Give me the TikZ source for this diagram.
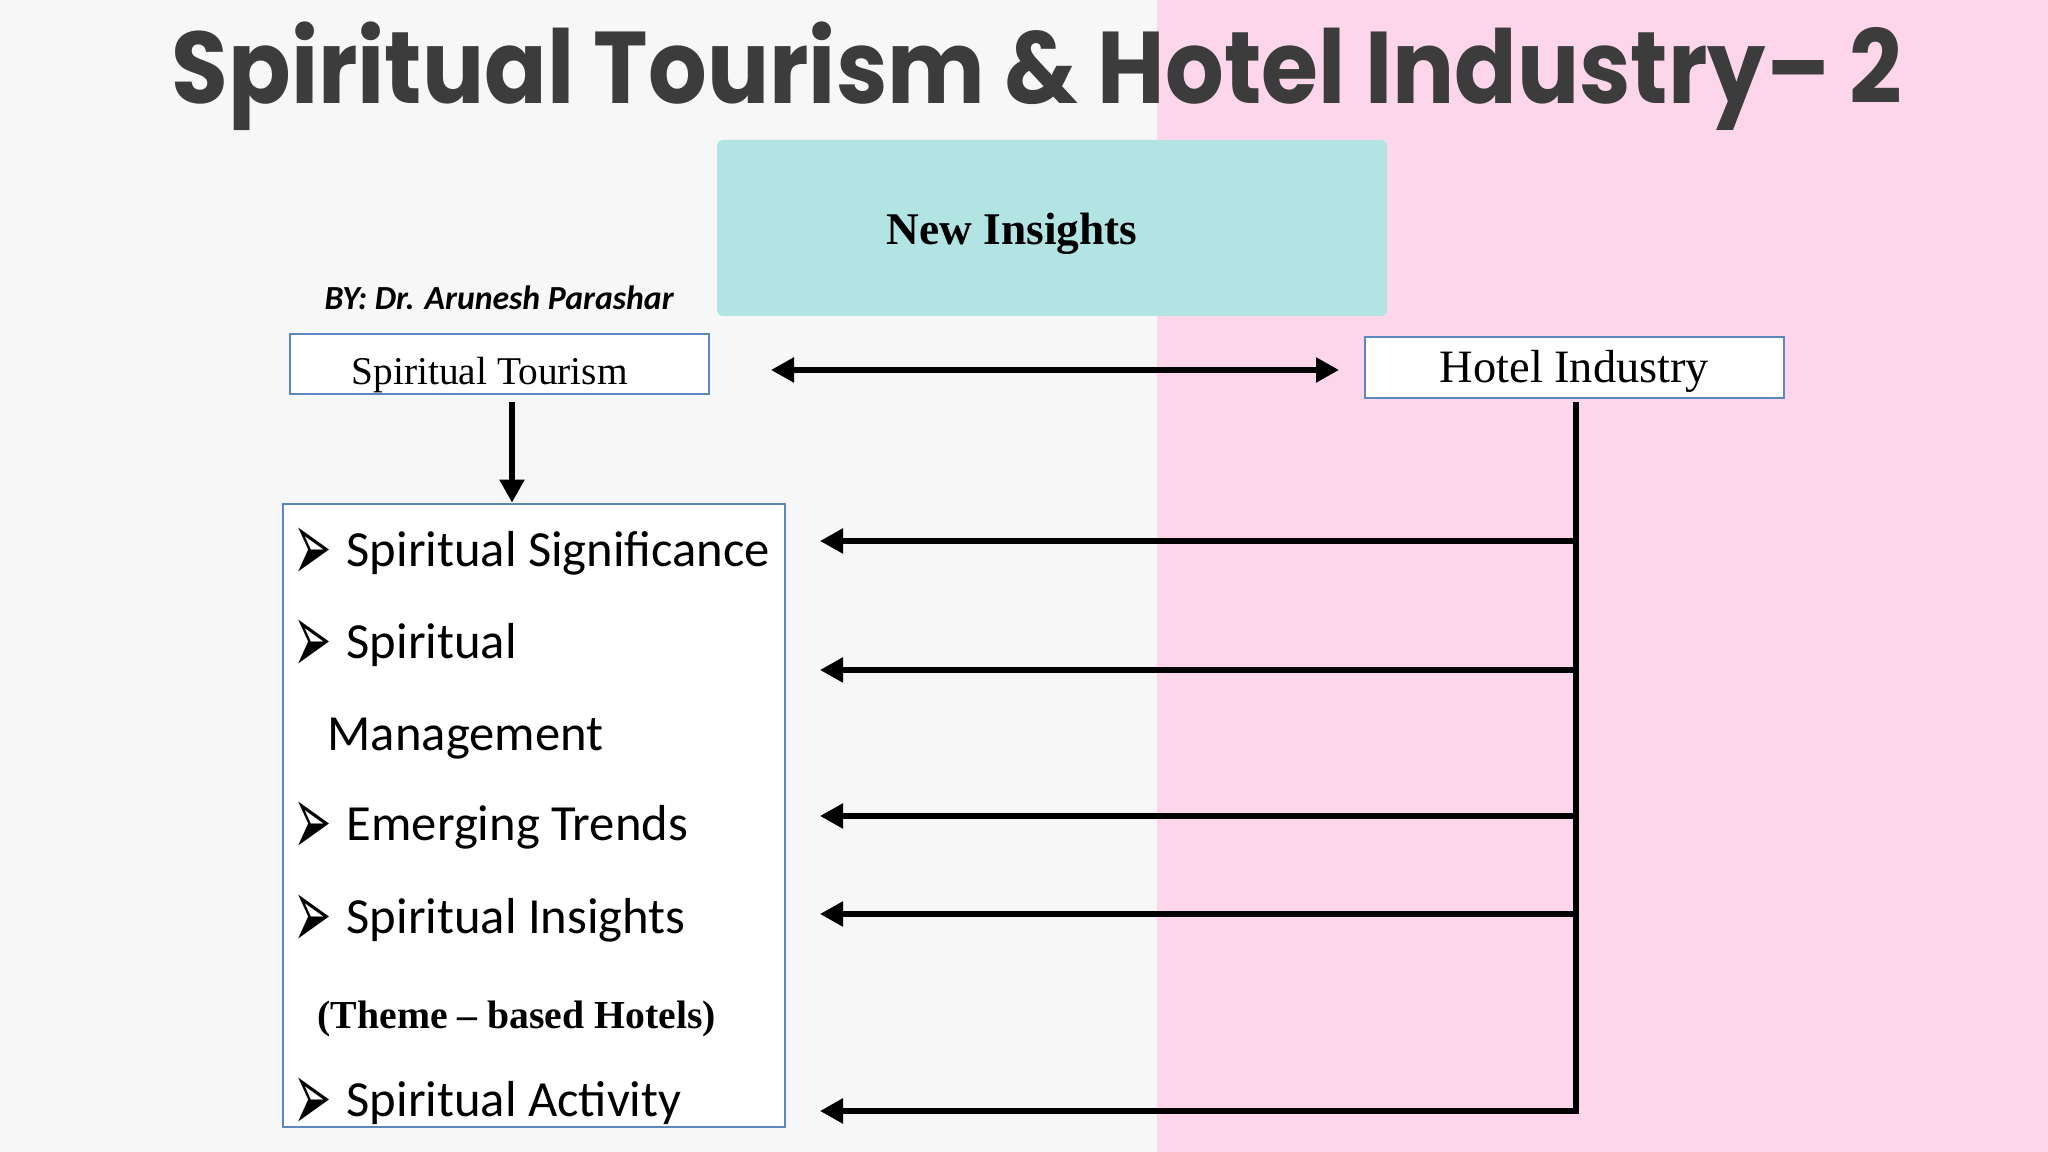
\documentclass[tikz,border=0pt]{standalone}
\usepackage{fontspec}
\setmainfont{Liberation Serif}
\newfontfamily\calfont{Carlito}
\newfontfamily\titlefont{Poppins}
\newfontfamily\symfont{DejaVu Sans}
\usetikzlibrary{arrows.meta}

\definecolor{leftbg}{HTML}{F7F7F7}
\definecolor{pinkbg}{HTML}{FDD6EB}
\definecolor{tealbox}{HTML}{B2E4E4}
\definecolor{frameblue}{HTML}{5B86C0}
\definecolor{titlegray}{HTML}{3C3C3C}

\newcommand{\bul}{\makebox[0.48cm][l]{\hspace{-0.05cm}\raisebox{-4.2pt}{\scalebox{1.0}[2.2]{\symfont\fontsize{13}{13}\selectfont ➢}}}}

\tikzset{
  framebox/.style={draw=frameblue, line width=0.8pt, fill=white, inner sep=0pt},
  itemtext/.style={anchor=base west, inner sep=0pt, font=\calfont\fontsize{14.4}{17}\selectfont},
  plaintext/.style={anchor=base west, inner sep=0pt},
}

\begin{document}
\begin{tikzpicture}[>={Triangle[length=2.3mm,width=2.4mm]}]
			\useasboundingbox (0,0) rectangle (20.48,11.52);
			\fill[leftbg] (0,0) rectangle (11.57,11.52);
			\fill[pinkbg] (11.57,0) rectangle (20.48,11.52);

			\node (title) [anchor=base, text=titlegray, font=\titlefont\bfseries\fontsize{29}{34}\selectfont] at (10.37,10.48) {\scalebox{0.905}[1]{Spiritual Tourism \& Hotel Industry– 2}};

			\node (insightbox) [fill=tealbox, rounded corners=0.06cm, minimum width=6.70cm, minimum height=1.76cm] at (10.52,9.24) {};
			\node (insights) [plaintext, font=\bfseries\fontsize{12.9}{15}\selectfont] at (8.86,9.07) {New Insights};

			\node (author) [plaintext, font=\calfont\bfseries\itshape\fontsize{9.6}{11}\selectfont] at (3.24,8.42) {BY: Dr. Arunesh Parashar};

			\node (tourism) [framebox, minimum width=4.19cm, minimum height=0.60cm] at (4.995,7.88) {};
			\node (tourismtxt) [plaintext, font=\fontsize{11.2}{13}\selectfont] at (3.51,7.67) {Spiritual Tourism};
			\node (hotel) [framebox, minimum width=4.19cm, minimum height=0.61cm, text height=0.31cm, text depth=0pt, font=\fontsize{13.2}{15}\selectfont] at (15.745,7.845) {Hotel Industry};

			\coordinate (linkl) at (7.71,7.82);
			\coordinate (linkr) at (13.39,7.82);
			\draw[<->, line width=1.5pt] (linkl) -- (linkr);

			\node (list) [framebox, minimum width=5.02cm, minimum height=6.23cm] at (5.34,3.365) {};
			\node (sig) [itemtext] at (2.98,5.85) {\bul Spiritual Significance};
			\node (mgmt) [itemtext] at (2.98,4.93) {\bul Spiritual};
			\node (mgmtb) [itemtext] at (3.27,4.01) {Management};
			\node (trend) [itemtext] at (2.98,3.11) {\bul Emerging Trends};
			\node (insight) [itemtext] at (2.98,2.18) {\bul Spiritual Insights};
			\node (theme) [plaintext, font=\bfseries\fontsize{11.3}{13}\selectfont] at (3.17,1.23) {(Theme – based Hotels)};
			\node (activity) [itemtext] at (2.98,0.35) {\bul Spiritual Activity};

			\coordinate (drop) at (5.12,7.50);
			\draw[->, line width=1.5pt] (drop) -- (drop |- list.north);

			\coordinate (spinetop) at (15.76,7.50);
			\coordinate (tip1) at (8.20,6.11);
			\coordinate (tip2) at (8.20,4.82);
			\coordinate (tip3) at (8.20,3.36);
			\coordinate (tip4) at (8.20,2.38);
			\coordinate (tip5) at (8.20,0.41);
			\draw[->, line width=1.6pt] (spinetop) |- (tip5);
			\draw[->, line width=1.5pt] (tip1 -| spinetop) -- (tip1);
			\draw[->, line width=1.5pt] (tip2 -| spinetop) -- (tip2);
			\draw[->, line width=1.5pt] (tip3 -| spinetop) -- (tip3);
			\draw[->, line width=1.5pt] (tip4 -| spinetop) -- (tip4);
		\end{tikzpicture}
\end{document}
